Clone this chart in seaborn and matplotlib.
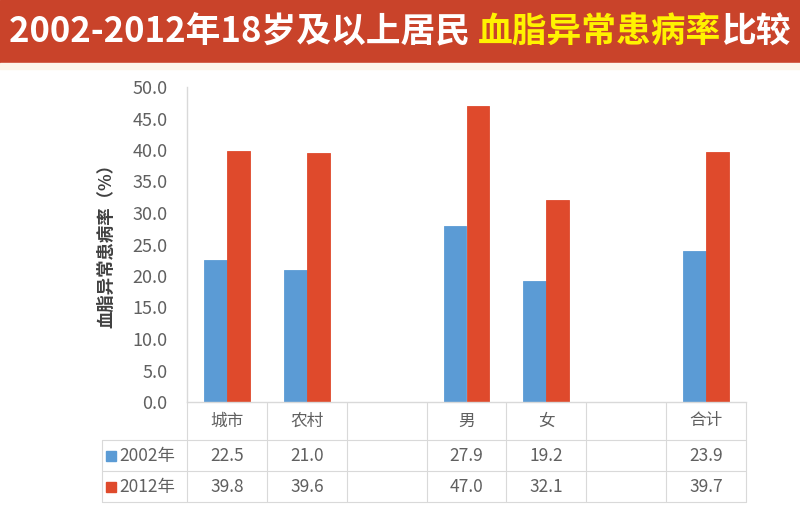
import matplotlib
matplotlib.use('Agg')
import matplotlib.pyplot as plt
import matplotlib.transforms as mtransforms
from matplotlib.patches import Rectangle
from matplotlib.lines import Line2D
import seaborn as sns
import pandas as pd

# data
categories = ['城市', '农村', '', '男', '女', ' ', '合计']
groups = ['城市', '农村', '男', '女', '合计']
years = ['2002年', '2012年']
rate_2002 = [22.5, 21.0, 27.9, 19.2, 23.9]
rate_2012 = [39.8, 39.6, 47.0, 32.1, 39.7]
yticks = [0, 5, 10, 15, 20, 25, 30, 35, 40, 45, 50]

title_parts = ['2002-2012年18岁及以上居民 ', '血脂异常患病率', '比较']
title_colors = ['white', '#fff200', 'white']
ylabel = '血脂异常患病率（%）'

blue = '#5b9bd5'
red = '#df4a2c'
banner = '#c9432a'
grid_gray = '#d9d9d9'
text_gray = '#606060'

df = pd.DataFrame({
    'group': groups * 2,
    'year': [years[0]] * len(groups) + [years[1]] * len(groups),
    'rate': rate_2002 + rate_2012,
})

sns.set_style('white')
plt.rcParams['font.family'] = ['Noto Sans CJK SC', 'DejaVu Sans']

W, H = 800, 513
fig = plt.figure(figsize=(W / 100, H / 100), dpi=100)


def px(x):
    return x / W


def py(y):
    return 1 - y / H


# title banner
fig.add_artist(Rectangle((0, py(63)), 1, 63 / H, transform=fig.transFigure,
                         color=banner, zorder=0))
fig.add_artist(Rectangle((0, py(69)), 1, 6 / H, transform=fig.transFigure,
                         color='#fdf5ea', zorder=0))

fig.canvas.draw()
renderer = fig.canvas.get_renderer()
pieces = []
for part, col in zip(title_parts, title_colors):
    t = fig.text(0, py(32), part, color=col, fontsize=25, fontweight='bold',
                 va='center', ha='left')
    pieces.append(t)
widths = [t.get_window_extent(renderer).width for t in pieces]
x0 = (W - sum(widths)) / 2
for t, w in zip(pieces, widths):
    t.set_x(px(x0))
    x0 += w

# chart
ax = fig.add_axes([px(187), py(402), px(746 - 187), 315 / H])
sns.barplot(data=df, x='group', y='rate', hue='year', order=categories,
            hue_order=years, palette=[blue, red], width=0.575, saturation=1,
            errorbar=None, legend=False, ax=ax)
for p in ax.patches:
    p.set_edgecolor(p.get_facecolor())
    p.set_linewidth(0.6)
ax.set_xlim(-0.5, len(categories) - 0.5)
ax.set_ylim(0, 50)
ax.set_yticks(yticks)
ax.set_yticklabels([f'{v:.1f}' for v in yticks])
ax.set_xticks([])
ax.set_xlabel('')
ax.set_ylabel('')
for s in ['top', 'right']:
    ax.spines[s].set_visible(False)
for s in ['left', 'bottom']:
    ax.spines[s].set_color(grid_gray)
    ax.spines[s].set_linewidth(1)
ax.tick_params(axis='y', direction='out', length=4, color=grid_gray,
               labelcolor=text_gray, labelsize=13, pad=10)

fig.text(px(106), py(242), ylabel, rotation=90, ha='center', va='center',
         fontsize=12.5, fontweight='bold', color='#404040')

# data table under the axis
trans = mtransforms.blended_transform_factory(ax.transData, fig.transFigure)
for i in range(len(categories) + 1):
    fig.add_artist(Line2D([i - 0.5, i - 0.5], [py(402), py(502)],
                          transform=trans, color=grid_gray, lw=0.8))
for yy in [440, 471, 502]:
    fig.add_artist(Line2D([px(102), px(746)], [py(yy), py(yy)],
                          transform=fig.transFigure, color=grid_gray, lw=0.8))
fig.add_artist(Line2D([px(102), px(102)], [py(440), py(502)],
                      transform=fig.transFigure, color=grid_gray, lw=0.8))

for i, c in enumerate(categories):
    fig.text(i, py(421), c.strip(), transform=trans, ha='center', va='center',
             fontsize=12, color=text_gray)

rows = [(years[0], rate_2002, blue, 456), (years[1], rate_2012, red, 487)]
for label, vals, col, yy in rows:
    fig.add_artist(Rectangle((px(106), py(yy + 5)), 10 / W, 10 / H,
                             transform=fig.transFigure, color=col))
    fig.text(px(119), py(yy), label, ha='left', va='center', fontsize=12.5,
             color=text_gray)
    for g, v in zip(groups, vals):
        fig.text(categories.index(g), py(yy), f'{v:.1f}', transform=trans,
                 ha='center', va='center', fontsize=12.5, color=text_gray)

fig.savefig('out.png', dpi=100)
